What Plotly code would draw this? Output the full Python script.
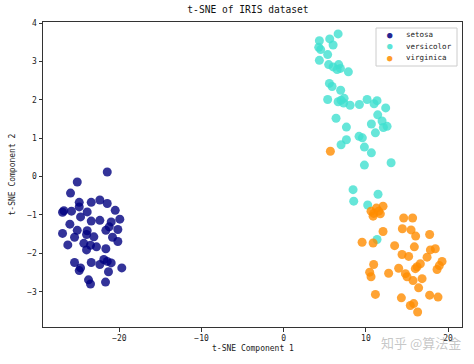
import plotly.graph_objects as go

# ---- data ----
setosa_x = [-21.48, -25.13, -25.95, -24.89, -23.43, -22.38, -21.48, -24.89, -26.76, -26.92,
            -25.83, -23.92, -20.51, -24.73, -23.43, -22.38, -21.00, -19.95, -26.03, -21.24,
            -21.65, -20.19, -25.13, -23.92, -26.92, -24.00, -23.11, -25.46, -20.84, -20.19,
            -24.33, -26.28, -23.52, -22.79, -24.00, -21.65, -25.46, -23.43, -22.38, -21.90,
            -21.48, -21.00, -24.73, -24.89, -19.71, -21.33, -23.76, -23.52, -21.69]
setosa_y = [0.12, -0.14, -0.43, -0.67, -0.67, -0.61, -0.70, -0.79, -0.89, -0.93,
            -0.90, -0.92, -0.88, -1.05, -1.16, -1.14, -1.18, -1.11, -1.24, -1.31,
            -1.40, -1.38, -1.40, -1.41, -1.48, -1.51, -1.57, -1.58, -1.58, -1.69,
            -1.74, -1.78, -1.79, -1.83, -1.91, -1.88, -2.24, -2.24, -2.29, -2.16,
            -2.21, -2.25, -2.38, -2.45, -2.38, -2.48, -2.69, -2.80, -2.75]

versicolor_x = [6.62, 5.60, 4.34, 6.01, 4.26, 4.50, 5.35, 4.34, 5.47, 6.01,
                6.69, 6.90, 6.50, 7.87, 5.56, 5.89, 6.93, 5.35, 6.62, 6.98,
                7.35, 7.30, 8.08, 9.21, 10.15, 11.00, 11.36, 12.41, 6.37, 11.44,
                10.67, 11.97, 7.63, 12.58, 12.13, 11.16, 9.17, 9.57, 7.63, 6.98,
                9.82, 10.67, 9.82, 13.07, 8.44, 11.48, 8.52, 10.22, 11.36]
versicolor_y = [3.72, 3.59, 3.54, 3.43, 3.37, 3.31, 3.18, 3.03, 2.92, 2.86,
                2.92, 2.82, 2.79, 2.73, 2.43, 2.35, 2.25, 2.01, 1.95, 1.99,
                2.04, 1.92, 1.86, 1.88, 2.01, 1.90, 1.98, 1.79, 1.52, 1.61,
                1.37, 1.45, 1.29, 1.31, 1.28, 1.14, 1.05, 1.01, 0.96, 0.83,
                0.77, 0.62, 0.30, 0.36, -0.34, -0.46, -0.64, -0.74, -1.64]

virginica_x = [5.68, 12.09, 11.28, 10.63, 10.95, 11.76, 11.56, 10.88, 14.60, 15.69,
               14.44, 15.50, 12.09, 16.06, 17.76, 9.54, 10.88, 13.50, 15.90, 17.85,
               18.45, 14.40, 15.21, 17.45, 16.63, 16.23, 16.02, 19.27, 18.94, 18.66,
               10.95, 13.99, 10.46, 10.63, 12.77, 14.81, 15.01, 16.84, 15.74, 16.42,
               11.16, 14.32, 17.76, 18.78, 15.41, 15.82, 16.30]
virginica_y = [0.66, -0.77, -0.82, -0.90, -0.96, -0.97, -0.90, -1.03, -1.08, -1.08,
               -1.36, -1.39, -1.43, -1.55, -1.51, -1.71, -1.73, -1.80, -1.83, -1.91,
               -1.88, -2.03, -2.08, -2.10, -2.27, -2.35, -2.40, -2.21, -2.32, -2.42,
               -2.29, -2.39, -2.49, -2.61, -2.52, -2.53, -2.61, -2.66, -2.71, -2.90,
               -3.07, -3.16, -3.09, -3.14, -3.36, -3.31, -3.53]

series_names = ["setosa", "versicolor", "virginica"]
series_colors = ["#000080", "#40E0D0", "#FF8C00"]
x_ticks = [-20, -10, 0, 10, 20]
y_ticks = [-3, -2, -1, 0, 1, 2, 3, 4]

MONO = "DejaVu Sans Mono"
L, R, T, B = 43, 12, 22, 37
W, H = 474, 364
PW, PH = W - L - R, H - T - B


def px(x):  # pixel x -> paper x
    return (x - L) / PW


def py(y):  # pixel y -> paper y
    return 1 - (y - T) / PH


fig = go.Figure()
for name, xs, ys, col in zip(series_names,
                             [setosa_x, versicolor_x, virginica_x],
                             [setosa_y, versicolor_y, virginica_y],
                             series_colors):
    fig.add_trace(go.Scatter(
        x=xs, y=ys, mode="markers", name=name, showlegend=False,
        marker=dict(size=9, color=col, opacity=0.8, line=dict(width=0)),
    ))

fig.update_layout(
    width=W, height=H,
    margin=dict(l=L, r=R, t=T, b=B, autoexpand=False),
    paper_bgcolor="white", plot_bgcolor="white",
    font=dict(family=MONO, size=8, color="#222"),
    title=dict(text="t-SNE of IRIS dataset", xref="container", x=248 / W, xanchor="center",
               yref="container", y=1 - 10 / H, yanchor="middle",
               font=dict(family=MONO, size=9.6, color="#111")),
    showlegend=False,
)
fig.update_xaxes(range=[-29.3, 21.7], tickvals=x_ticks, ticks="outside", ticklen=3.5,
                 tickcolor="#333", showline=True, linecolor="#333", linewidth=1, mirror=True,
                 showgrid=False, zeroline=False, automargin=False)
fig.update_yaxes(range=[-3.92, 4.03], tickvals=y_ticks, ticks="outside", ticklen=3.5,
                 tickcolor="#333", showline=True, linecolor="#333", linewidth=1, mirror=True,
                 showgrid=False, zeroline=False, automargin=False)

# axis titles
fig.add_annotation(text="t-SNE Component 1", xref="paper", yref="paper", x=0.5, y=py(348),
                   xanchor="center", yanchor="middle", showarrow=False,
                   font=dict(family=MONO, size=8, color="#222"))
fig.add_annotation(text="t-SNE Component 2", xref="paper", yref="paper", x=px(12), y=0.5,
                   xanchor="center", yanchor="middle", textangle=-90, showarrow=False,
                   font=dict(family=MONO, size=8, color="#222"))

# legend box (matplotlib style)
fig.add_shape(type="rect", xref="paper", yref="paper",
              x0=px(376), x1=px(457), y0=py(66), y1=py(28),
              line=dict(color="#cccccc", width=1), fillcolor="rgba(255,255,255,0.85)")
for i, (name, col) in enumerate(zip(series_names, series_colors)):
    yy = 34.5 + i * 11.7
    fig.add_annotation(text="●", xref="paper", yref="paper", x=px(389.5), y=py(yy),
                       xanchor="center", yanchor="middle", showarrow=False,
                       font=dict(size=9, color=col), opacity=0.85)
    fig.add_annotation(text=name, xref="paper", yref="paper", x=px(404), y=py(yy),
                       xanchor="left", yanchor="middle", showarrow=False,
                       font=dict(family=MONO, size=7.5, color="#222"))

fig.add_annotation(text="知乎 @算法金", xref="paper", yref="paper", x=px(463), y=py(342),
                   xanchor="right", yanchor="middle", showarrow=False,
                   font=dict(family="Noto Sans CJK SC", size=13, color="rgba(150,150,150,0.55)"))

fig.write_html("out.html", config={"displayModeBar": False},
               post_script="document.body.style.margin='0';")
